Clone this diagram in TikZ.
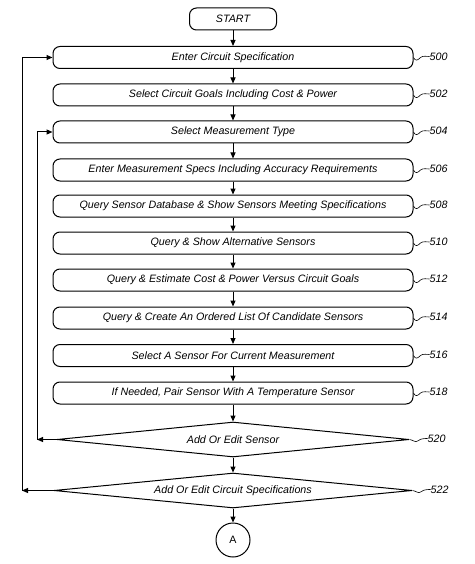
\documentclass[tikz,border=0pt]{standalone}
\usepackage{fontspec}
\setmainfont{Liberation Sans}
\usetikzlibrary{calc}
\usetikzlibrary{arrows.meta}
\usetikzlibrary{shapes.geometric}

\tikzset{
	stepbox/.style={draw, line width=1pt, rounded corners=7pt, minimum width=360pt, minimum height=22pt, inner sep=0pt, font=\itshape\fontsize{10.7}{12}\selectfont},
	choice/.style={draw, line width=1pt, diamond, aspect=10, minimum width=352pt, minimum height=35pt, inner sep=0pt, font=\itshape\fontsize{10.7}{12}\selectfont},
	refnum/.style={anchor=west, inner sep=0pt, font=\itshape\fontsize{10.7}{12}\selectfont},
	flow/.style={line width=1pt, -{Triangle[length=6pt,width=5pt]}},
	squig/.style={semithick}
}

\begin{document}
\begin{tikzpicture}[x=1pt, y=-1pt]
		\useasboundingbox (0,0) rectangle (474,564);
		\node[draw, line width=1pt, rounded corners=7pt, minimum width=87pt, minimum height=22pt, inner sep=0pt, font=\itshape\fontsize{10.7}{12}\selectfont] (start) at (233,19) {START};
		\node[stepbox] (b500) at (233,57.5) {Enter Circuit Specification};
		\node[stepbox] (b502) at (233,95) {Select Circuit Goals Including Cost \& Power};
		\node[stepbox] (b504) at (233,132) {Select Measurement Type};
		\node[stepbox] (b506) at (233,170) {Enter Measurement Specs Including Accuracy Requirements};
		\node[stepbox] (b508) at (233,206) {Query Sensor Database \& Show Sensors Meeting Specifications};
		\node[stepbox] (b510) at (233,243) {Query \& Show Alternative Sensors};
		\node[stepbox] (b512) at (233,280) {Query \& Estimate Cost \& Power Versus Circuit Goals};
		\node[stepbox] (b514) at (233,318) {Query \& Create An Ordered List Of Candidate Sensors};
		\node[stepbox] (b516) at (233,355.5) {Select A Sensor For Current Measurement};
		\node[stepbox] (b518) at (233,393) {If Needed, Pair Sensor With A Temperature Sensor};
		\node[choice] (d520) at (233,439.5) {Add Or Edit Sensor};
		\node[choice, minimum width=358pt] (d522) at (233,490.5) {Add Or Edit Circuit Specifications};
		\node[draw, line width=1pt, circle, minimum size=34pt, inner sep=0pt, font=\fontsize{10.7}{12}\selectfont] (endA) at (233,540) {A};
		% straight flow down the middle
		\draw[flow] (start) -- (b500);
		\draw[flow] (b500) -- (b502);
		\draw[flow] (b502) -- (b504);
		\draw[flow] (b504) -- (b506);
		\draw[flow] (b506) -- (b508);
		\draw[flow] (b508) -- (b510);
		\draw[flow] (b510) -- (b512);
		\draw[flow] (b512) -- (b514);
		\draw[flow] (b514) -- (b516);
		\draw[flow] (b516) -- (b518);
		\draw[flow] (b518) -- (d520);
		\draw[flow] (d520) -- (d522);
		\draw[flow] (d522) -- (endA);
		% loops back on the left
		\coordinate (c520) at (37,439.5);
		\coordinate (c522) at (22,490.5);
		\draw[flow] (d520.west) -- (c520);
		\draw[flow] (c520) |- (b504.west);
		\draw[flow] (d522.west) -- (c522);
		\draw[flow] (c522) |- (b500.west);
		% reference numbers
		\foreach \n in {500,502,504,506,508,510,512,514,516,518} {
			\node[refnum] (n\n) at ($(b\n.east)+(16,-1)$) {\n};
			\draw[squig] (b\n.east) .. controls +(2,4) and +(-3,3) .. ++(7,0) .. controls +(2,-2) and +(-2,0) .. (n\n.west);
		}
		\foreach \n in {520,522} {
			\node[refnum] (n\n) at ($(d\n.east)+(18,-1)$) {\n};
			\draw[squig] (d\n.east) .. controls +(3,0) and +(-3,3) .. ++(9,1) .. controls +(2,-2) and +(-2,0) .. (n\n.west);
		}
	\end{tikzpicture}
\end{document}
